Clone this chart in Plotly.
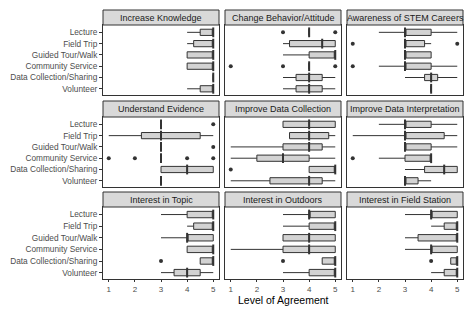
import plotly.graph_objects as go

categories = ["Lecture", "Field Trip", "Guided Tour/Walk", "Community Service",
              "Data Collection/Sharing", "Volunteer"]
panel_titles = ["Increase Knowledge", "Change Behavior/Attitude", "Awareness of STEM Careers",
                "Understand Evidence", "Improve Data Collection", "Improve Data Interpretation",
                "Interest in Topic", "Interest in Outdoors", "Interest in Field Station"]
tick_vals = [1, 2, 3, 4, 5]

# (lower whisker, q1, median, q3, upper whisker) per category
increase_knowledge = [(4, 4.5, 5, 5, 5), (4, 4.25, 5, 5, 5), (4, 4, 5, 5, 5),
                      (4, 4, 5, 5, 5), (5, 5, 5, 5, 5), (4, 4.5, 5, 5, 5)]
change_behavior = [(4, 4, 4, 4, 4), (3, 3.25, 4.5, 5, 5), (3, 4, 5, 5, 5),
                   (4, 4, 4, 4, 4), (3, 3.5, 4, 4.5, 5), (3, 3.5, 4, 4.5, 5)]
stem_careers = [(2, 3, 3, 4, 5), (3, 3, 3, 3.75, 4), (3, 3, 3, 4, 4),
                (2, 3, 3, 4, 5), (3, 3.75, 4, 4.25, 5), (4, 4, 4, 4, 4)]
understand_evidence = [(3, 3, 3, 3, 3), (1, 2.25, 3, 4.5, 5), (3, 3, 3, 3, 3),
                       (3, 3, 3, 3, 3), (3, 3, 4, 5, 5), (3, 3, 3, 3, 3)]
data_collection = [(3, 3, 4, 5, 5), (3.25, 3.25, 4, 4.75, 5), (1, 3, 4, 4.5, 5),
                   (1, 2, 3, 4, 5), (4, 4, 5, 5, 5), (1, 2.5, 4, 4.5, 5)]
data_interpretation = [(2, 3, 3, 4, 5), (1, 3, 3, 4.5, 5), (3, 3, 3, 4, 5),
                       (2, 3, 4, 4, 4), (3, 3.75, 4.5, 5, 5), (3, 3, 3, 3.5, 4)]
interest_topic = [(3, 4, 5, 5, 5), (4, 4.25, 5, 5, 5), (3, 4, 4, 5, 5),
                  (4, 4, 5, 5, 5), (4.5, 4.5, 5, 5, 5), (3, 3.5, 4, 4.5, 5)]
interest_outdoors = [(3, 4, 4, 5, 5), (3, 4, 5, 5, 5), (3, 3, 4, 5, 5),
                     (1, 3, 4, 5, 5), (4.5, 4.5, 5, 5, 5), (3, 4, 5, 5, 5)]
interest_station = [(3, 4, 4, 5, 5), (4, 4.5, 5, 5, 5), (3, 3.5, 5, 5, 5),
                    (3, 4, 4, 5, 5), (4.75, 4.75, 5, 5, 5), (4, 4.5, 5, 5, 5)]

# outliers: (category index, value)
out_increase_knowledge = []
out_change_behavior = [(0, 3), (0, 5), (3, 1), (3, 3), (3, 5)]
out_stem_careers = [(1, 1), (1, 5), (3, 1)]
out_understand_evidence = [(0, 5), (2, 5), (3, 1), (3, 2), (3, 4), (3, 5)]
out_data_collection = [(4, 1)]
out_data_interpretation = [(3, 1)]
out_interest_topic = [(4, 3)]
out_interest_outdoors = [(4, 3)]
out_interest_station = [(4, 4)]

panels = [increase_knowledge, change_behavior, stem_careers,
          understand_evidence, data_collection, data_interpretation,
          interest_topic, interest_outdoors, interest_station]
outliers = [out_increase_knowledge, out_change_behavior, out_stem_careers,
            out_understand_evidence, out_data_collection, out_data_interpretation,
            out_interest_topic, out_interest_outdoors, out_interest_station]

W, H = 474, 314
col_px = [(103, 219), (225, 341), (347, 463)]
row_px = [(25, 95), (117, 187), (207, 279)]   # panel top, bottom
strip_px = [(10, 25), (101, 117), (192, 207)]

LINE = "#333333"
FILL = "#d3d3d3"
TXT = "#4d4d4d"
FONT = "Liberation Sans, Arial, sans-serif"

fig = go.Figure()
shapes = []
annotations = []
layout = {}

for i, stats in enumerate(panels):
    r, c = divmod(i, 3)
    n = i + 1
    xa = "x" if n == 1 else f"x{n}"
    ya = "y" if n == 1 else f"y{n}"
    lo = [s[0] for s in stats]
    q1 = [s[1] for s in stats]
    med = [s[2] for s in stats]
    q3 = [s[3] for s in stats]
    hi = [s[4] for s in stats]
    fig.add_trace(go.Box(
        y=categories, q1=q1, median=med, q3=q3, lowerfence=lo, upperfence=hi,
        orientation="h", fillcolor=FILL, line=dict(color=LINE, width=1),
        whiskerwidth=0, width=0.55, boxpoints=False, showlegend=False,
        hoverinfo="skip", xaxis=xa, yaxis=ya))
    fig.add_trace(go.Scatter(
        x=med, y=categories, mode="markers", showlegend=False, hoverinfo="skip",
        marker=dict(symbol="line-ns", size=7, line=dict(color=LINE, width=2)),
        xaxis=xa, yaxis=ya))
    if outliers[i]:
        fig.add_trace(go.Scatter(
            x=[o[1] for o in outliers[i]], y=[categories[o[0]] for o in outliers[i]],
            mode="markers", showlegend=False, hoverinfo="skip",
            marker=dict(color=LINE, size=4), xaxis=xa, yaxis=ya))

    x0, x1 = col_px[c]
    y0, y1 = row_px[r]
    kx = "xaxis" if n == 1 else f"xaxis{n}"
    ky = "yaxis" if n == 1 else f"yaxis{n}"
    layout[kx] = dict(
        domain=[x0 / W, x1 / W], anchor=ya, range=[0.78, 5.22],
        tickvals=tick_vals, showticklabels=(r == 2), ticks="outside" if r == 2 else "",
        ticklen=2, tickcolor=LINE, tickfont=dict(size=8, color=TXT, family=FONT),
        showgrid=False, zeroline=False, showline=True, mirror=True,
        linecolor=LINE, linewidth=1, fixedrange=True)
    layout[ky] = dict(
        domain=[1 - y1 / H, 1 - y0 / H], anchor=xa, type="category",
        categoryorder="array", categoryarray=categories[::-1], range=[-0.55, 5.65],
        showticklabels=(c == 0), ticks="outside" if c == 0 else "", ticklen=3,
        tickcolor=LINE, tickfont=dict(size=8.3, color=TXT, family=FONT),
        showgrid=False, zeroline=False, showline=True, mirror=True,
        linecolor=LINE, linewidth=1, fixedrange=True)

    s0, s1 = strip_px[r]
    shapes.append(dict(type="rect", xref="paper", yref="paper",
                       x0=x0 / W, x1=x1 / W, y0=1 - s1 / H, y1=1 - s0 / H,
                       fillcolor="#d9d9d9", line=dict(color=LINE, width=1)))
    annotations.append(dict(text=panel_titles[i], xref="paper", yref="paper",
                            x=(x0 + x1) / 2 / W, y=1 - (s0 + s1) / 2 / H,
                            xanchor="center", yanchor="middle", showarrow=False,
                            font=dict(size=9, color="#1a1a1a", family=FONT)))

annotations.append(dict(text="Level of Agreement", xref="paper", yref="paper",
                        x=(103 + 463) / 2 / W, y=1 - 300 / H, xanchor="center",
                        yanchor="middle", showarrow=False,
                        font=dict(size=10.5, color="#000000", family=FONT)))

fig.update_layout(
    width=W, height=H, margin=dict(l=0, r=0, t=0, b=0),
    paper_bgcolor="white", plot_bgcolor="white", boxmode="overlay",
    shapes=shapes, annotations=annotations, **layout)

fig.write_html("out.html")
